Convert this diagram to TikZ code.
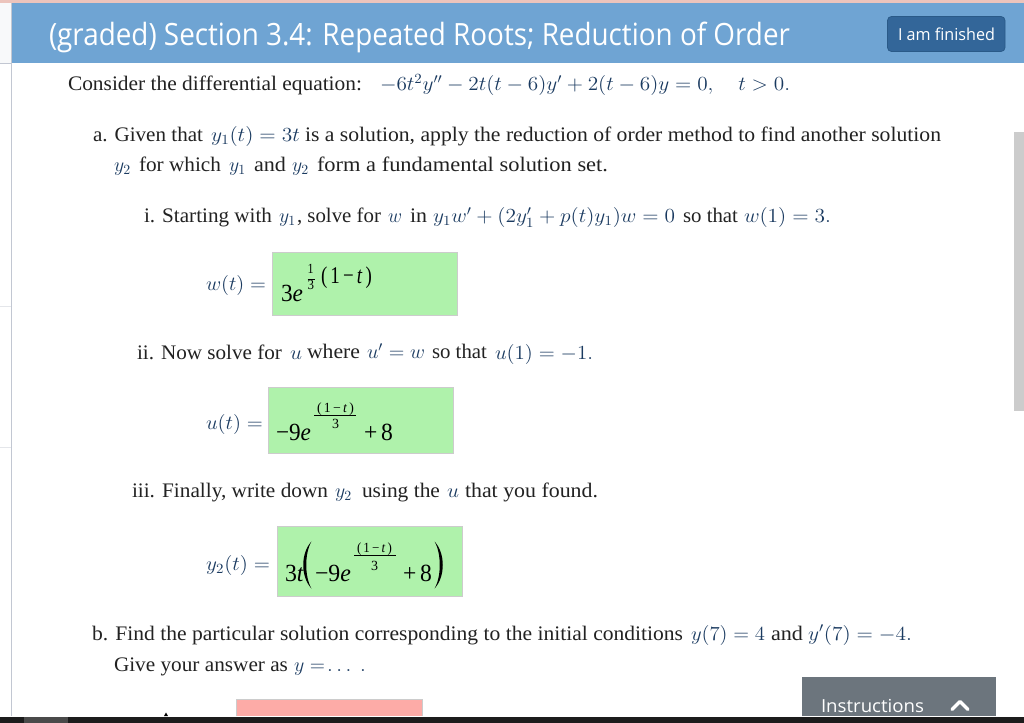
\RequirePackage{fix-cm}
\documentclass[tikz,border=0pt]{standalone}
\usepackage{amsmath}
\usepackage[no-math]{fontspec}
\setmainfont{Liberation Serif}
\newfontfamily\uifont{Open Sans}
\definecolor{pinkstrip}{HTML}{ECC4BC}
\definecolor{headblue}{HTML}{6FA4D3}
\definecolor{btnblue}{HTML}{336699}
\definecolor{btnedge}{HTML}{2A5A88}
\definecolor{panel}{HTML}{F8F9FA}
\definecolor{rulegrey}{HTML}{C2C7D2}
\definecolor{faint}{HTML}{E4E6EA}
\definecolor{okgreen}{HTML}{AFF2AB}
\definecolor{okedge}{HTML}{CCCCCC}
\definecolor{badpink}{HTML}{FDABA7}
\definecolor{instr}{HTML}{6C757D}
\definecolor{barblack}{HTML}{1C1C1C}
\definecolor{bargrey}{HTML}{4A4A4A}
\definecolor{scrollg}{HTML}{CCCCCC}
\definecolor{inktext}{HTML}{222222}
\definecolor{inkmath}{HTML}{1A3A60}
\newcommand\fitw[2]{\resizebox{\dimexpr #1pt*3/4\relax}{\height}{#2}}
\newcommand\szt{\fontsize{15.5}{18}\selectfont}
\newcommand\szm{\fontsize{15}{18}\selectfont}
\newcommand\bigA{\fontsize{18.5}{20}\selectfont}
\newcommand\midA{\fontsize{18}{20}\selectfont}
\newcommand\smlA{\fontsize{10.5}{12}\selectfont}
\tikzset{
  x=0.75pt,y=-0.75pt,
  flat/.style={inner sep=0,outer sep=0,anchor=base west},
  prose/.style={flat,text=inktext,font=\szt,yshift=-0.75pt},
  formula/.style={flat,text=inkmath,font=\szm,yshift=-0.75pt},
  ansbig/.style={flat,text=black,font=\bigA},
  ansmid/.style={flat,text=black,font=\midA},
  anssml/.style={flat,text=black,font=\smlA},
  ansctr/.style={anssml,anchor=base},
  okbox/.style={fill=okgreen,draw=okedge,line width=0.6pt},
  ui/.style={flat,text=white},
  barline/.style={black,line width=0.55pt}
}
\begin{document}
\begin{tikzpicture}
\useasboundingbox (0,0) rectangle (1024,723);
\fill[white] (0,0) rectangle (1024,723);
% page chrome
\fill[pinkstrip] (0,0) rectangle (1024,3.5);
\fill[panel] (0,3.5) rectangle (11,63);
\fill[headblue] (11,3.5) rectangle (1024,63.5);
\draw[rulegrey,line width=0.8pt] (0,63.5) -- (11.5,63.5);
\draw[rulegrey,line width=0.8pt] (11.5,3.5) -- (11.5,716);
\draw[faint,line width=0.6pt] (0,306) -- (11,306);
\draw[faint,line width=0.6pt] (0,447) -- (11,447);
\fill[scrollg] (1014,132) rectangle (1024,411);
\node[ui,font=\uifont\fontsize{23}{26}\selectfont] (title) at (49,46) {\fitw{741}{(graded) Section 3.4: Repeated Roots; Reduction of Order}};
\draw[btnedge,fill=btnblue,rounded corners=3pt,line width=0.6pt] (887.5,16.5) rectangle (1005,51.5);
\node[ui,font=\uifont\fontsize{12.4}{14}\selectfont] (btn) at (898,40.5) {\fitw{97}{I am finished}};
% line 1
\node[prose] (l1a) at (68,90) {\fitw{294}{Consider the differential equation:}};
\node[formula] (l1m) at (380,90) {\fitw{410}{$-6t^2y''-2t(t-6)y'+2(t-6)y=0,\quad t>0.$}};
% part a
\node[prose] (a1) at (93,141) {\fitw{110}{a. Given that}};
\node[formula] (a2) at (211,141) {\fitw{89}{$y_1(t)=3t$}};
\node[prose] (a3) at (305,141) {\fitw{636}{is a solution, apply the reduction of order method to find another solution}};
\node[formula] (b1) at (114,171) {\fitw{17}{$y_2$}};
\node[prose] (b2) at (139,171) {\fitw{82}{for which}};
\node[formula] (b3) at (229,171) {\fitw{17}{$y_1$}};
\node[prose] (b4) at (254,171) {\fitw{32}{and}};
\node[formula] (b5) at (292,171) {\fitw{17}{$y_2$}};
\node[prose] (b6) at (317,171) {\fitw{291}{form a fundamental solution set.}};
% part i
\node[prose] (c1) at (144,222) {\fitw{128}{i. Starting with}};
\node[formula] (c2) at (279,222) {\fitw{17}{$y_1$}};
\node[prose] (c3) at (297,222) {\fitw{84}{, solve for}};
\node[formula] (c4) at (388,222) {\fitw{14}{$w$}};
\node[prose] (c5) at (410,222) {\fitw{17}{in}};
\node[formula] (c6) at (433,222) {\fitw{242}{$y_1w'+(2y_1'+p(t)y_1)w=0$}};
\node[prose] (c7) at (683,222) {\fitw{55}{so that}};
\node[formula] (c8) at (744,222) {\fitw{87}{$w(1)=3.$}};
\node[formula] (wl) at (206,290) {\fitw{60}{$w(t)=$}};
\draw[okbox] (272.5,252.5) rectangle (457.5,315.5);
\node[ansbig] (w3e) at (281,301.5) {\fitw{22}{3\textit{e}}};
\node[anssml] (wn) at (307.5,273.5) {\fitw{6}{1}};
\draw[barline] (307.5,279) -- (314.5,279);
\node[anssml] (wd) at (307.5,290) {\fitw{6.5}{3}};
\node[ansmid] (wp) at (321,284) {\fitw{51}{(\,1\,−\,\textit{t}\,)}};
% part ii
\node[prose] (d1) at (137,358) {\fitw{145}{ii. Now solve for}};
\node[formula] (d2) at (290,358) {\fitw{12}{$u$}};
\node[prose] (d3) at (307,358) {\fitw{53}{where}};
\node[formula] (d4) at (367,358) {\fitw{58}{$u'=w$}};
\node[prose] (d5) at (432,358) {\fitw{55}{so that}};
\node[formula] (d6) at (495,358) {\fitw{98}{$u(1)=-1.$}};
\node[formula] (ul) at (206,428) {\fitw{57}{$u(t)=$}};
\draw[okbox] (268.5,387.5) rectangle (453.5,453.5);
\node[ansbig] (u9e) at (276,440) {\fitw{35}{−9\textit{e}}};
\node[anssml] (un) at (317,412) {\fitw{37}{(\,1\,−\,\textit{t}\,)}};
\draw[barline] (314,415.5) -- (356,415.5);
\node[ansctr] (ud) at (335.5,428) {3};
\node[ansbig] (u8) at (364,440) {\fitw{29}{+\,8}};
% part iii
\node[prose] (e1) at (132,496) {\fitw{196}{iii. Finally, write down}};
\node[formula] (e2) at (335,496) {\fitw{17}{$y_2$}};
\node[prose] (e3) at (362,496) {\fitw{78}{using the}};
\node[formula] (e4) at (447,496) {\fitw{12}{$u$}};
\node[prose] (e5) at (465,496) {\fitw{133}{that you found.}};
\node[formula] (yl) at (206,569) {\fitw{64}{$y_2(t)=$}};
\draw[okbox] (277.5,526.5) rectangle (462.5,596.5);
\node[ansbig] (y3t) at (285,581) {\fitw{19}{3\textit{t}}};
\node[ansbig] (y9e) at (315,581) {\fitw{36}{−9\textit{e}}};
\node[anssml] (yn) at (357,552) {\fitw{35}{(\,1\,−\,\textit{t}\,)}};
\draw[barline] (354,555.5) -- (396,555.5);
\node[ansctr] (yd) at (374.5,570) {3};
\node[ansbig] (y8) at (403,581) {\fitw{29}{+\,8}};
\fill[black] (311.5,541.5) .. controls (300.5,553) and (300.5,577) .. (311.5,588.5) .. controls (304.5,577) and (304.5,553) .. (311.5,541.5) -- cycle;
\fill[black] (434.5,541.5) .. controls (445.5,553) and (445.5,577) .. (434.5,588.5) .. controls (441.5,577) and (441.5,553) .. (434.5,541.5) -- cycle;
% part b
\node[prose] (f1) at (92,639) {\fitw{591}{b. Find the particular solution corresponding to the initial conditions}};
\node[formula] (f2) at (691,639) {\fitw{74}{$y(7)=4$}};
\node[prose] (f3) at (771,639) {\fitw{32}{and}};
\node[formula] (f4) at (808,639) {\fitw{104}{$y'(7)=-4.$}};
\node[prose] (g1) at (114,670) {\fitw{174}{Give your answer as}};
\node[formula] (g2) at (294,670) {\fitw{31}{$y=$}};
\node[formula] (g3) at (327,670) {\fitw{39}{$\ldots\ .$}};
% bottom
\fill[badpink] (236,699) rectangle (422,716);
\draw[okedge,line width=0.4pt] (236,716) -- (236,699) -- (422,699) -- (422,716);
\fill[black] (164,716) -- (166,712.5) -- (168,716) -- cycle;
\fill[instr] (802,677) rectangle (996,716);
\node[ui,font=\uifont\fontsize{13.5}{16}\selectfont] (ins) at (821,712) {\fitw{103}{Instructions}};
\draw[white,line width=2.6pt,line cap=round,line join=round] (952,709.5) -- (960,701.5) -- (968,709.5);
\fill[barblack] (0,716.5) rectangle (1024,723);
\fill[bargrey] (24,716.5) rectangle (68,723);
\end{tikzpicture}
\end{document}
